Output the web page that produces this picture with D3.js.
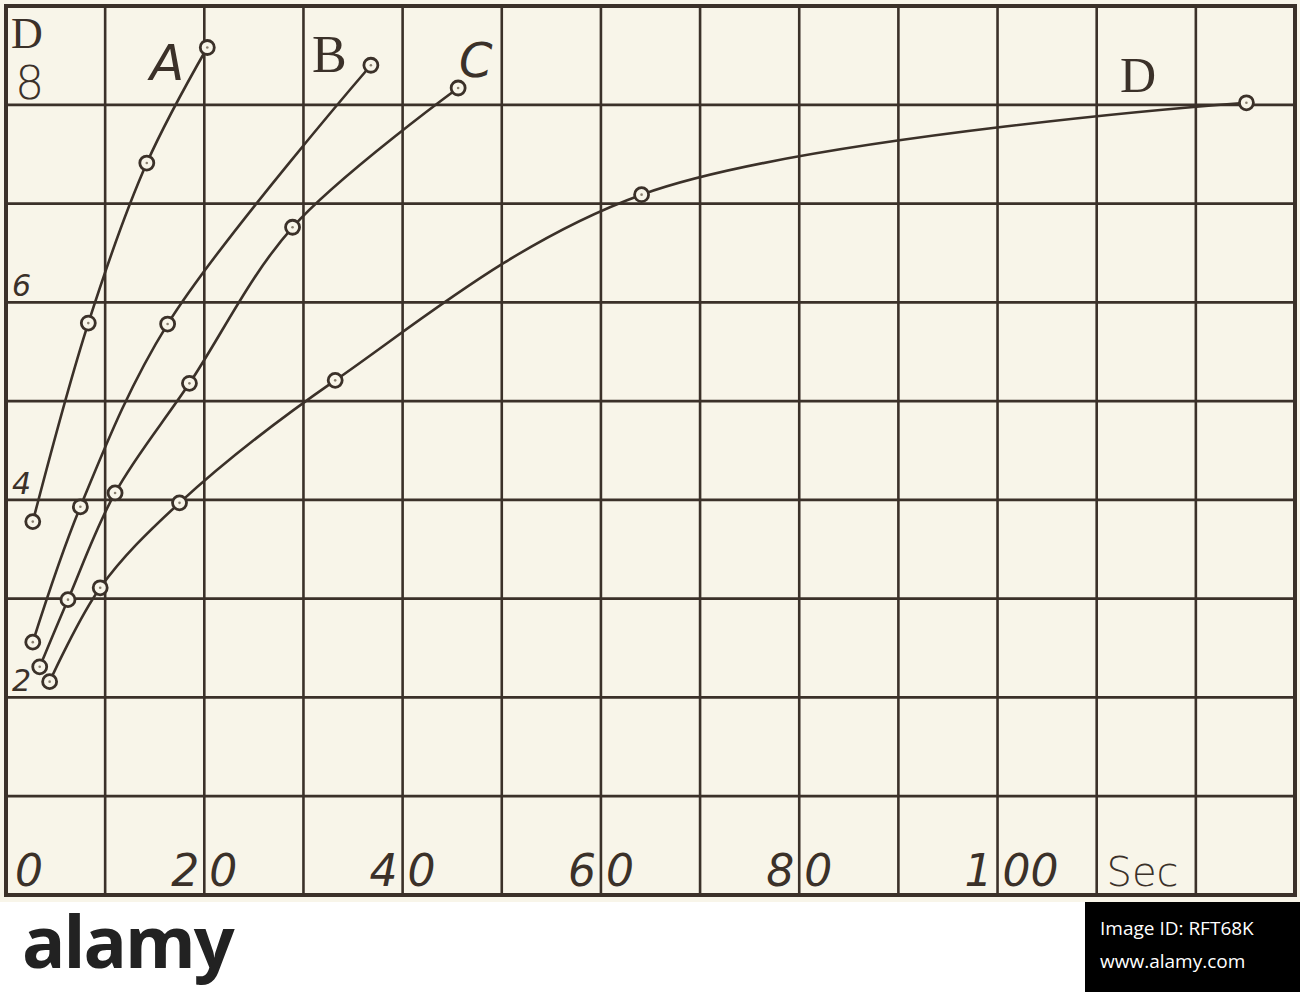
<!DOCTYPE html>
<html>
<head>
<meta charset="utf-8">
<script src="https://cdn.jsdelivr.net/npm/d3@7"></script>
<style>
  html, body { margin: 0; padding: 0; background: #ffffff; }
  svg { display: block; }
</style>
</head>
<body>
<svg id="chart" width="1300" height="992"></svg>
<script>
// ---- data ----
const seriesNames = ["A", "B", "C", "D"];
const seriesA = [[2.7, 3.78], [8.3, 5.79], [14.2, 7.41], [20.3, 8.58]];
const seriesB = [[2.7, 2.56], [7.5, 3.93], [16.3, 5.78], [36.8, 8.40]];
const seriesC = [[3.4, 2.31], [6.25, 2.99], [11.0, 4.07], [18.5, 5.18], [28.9, 6.76], [45.6, 8.17]];
const seriesD = [[4.4, 2.16], [9.5, 3.11], [17.5, 3.97], [33.2, 5.21], [64.1, 7.09], [125.1, 8.02]];
const xTickLabels = ["0", "20", "40", "60", "80", "100"];
const xTickValues = [0, 20, 40, 60, 80, 100];
const yTickLabels = ["2", "4", "6", "8"];
const yTickValues = [2, 4, 6, 8];
const xUnit = "Sec";
const yUnit = "D";

// ---- layout ----
const svg = d3.select("#chart");
const ink = "#3b3129";
const paper = "#f8f5e9";
const L = 6, R = 1295, T = 6, B = 895;

const x = d3.scaleLinear().domain([0, 130]).range([L, R]);
const y = d3.scaleLinear().domain([0, 9]).range([B, T]);

svg.append("rect").attr("x", 0).attr("y", 0).attr("width", 1300).attr("height", 902).attr("fill", paper);

// grid
const g = svg.append("g");
g.selectAll("line.v").data(d3.range(10, 130, 10)).join("line")
  .attr("x1", d => x(d)).attr("x2", d => x(d)).attr("y1", T).attr("y2", B)
  .attr("stroke", ink).attr("stroke-width", 2.6);
g.selectAll("line.h").data(d3.range(1, 9, 1)).join("line")
  .attr("y1", d => y(d)).attr("y2", d => y(d)).attr("x1", L).attr("x2", R)
  .attr("stroke", ink).attr("stroke-width", 2.8);
g.append("rect").attr("x", L).attr("y", T).attr("width", R - L).attr("height", B - T)
  .attr("fill", "none").attr("stroke", ink).attr("stroke-width", 4);

// curves
const line = d3.line().x(d => x(d[0])).y(d => y(d[1])).curve(d3.curveCatmullRom.alpha(0.5));
const allSeries = [seriesA, seriesB, seriesC, seriesD];
allSeries.forEach(s => {
  svg.append("path").attr("d", line(s)).attr("fill", "none")
    .attr("stroke", ink).attr("stroke-width", 2.6);
});
allSeries.forEach(s => {
  svg.append("g").selectAll("circle").data(s).join("circle")
    .attr("cx", d => x(d[0])).attr("cy", d => y(d[1])).attr("r", 7)
    .attr("fill", paper).attr("stroke", ink).attr("stroke-width", 2.8);
  svg.append("g").selectAll("circle").data(s).join("circle")
    .attr("cx", d => x(d[0])).attr("cy", d => y(d[1])).attr("r", 1.3)
    .attr("fill", "#8a8070");
});

// text
const font = "'DejaVu Sans', 'Liberation Sans', sans-serif";
const txt = (s, px, py, size, opts = {}) => svg.append("text")
  .attr("x", px).attr("y", py).text(s)
  .attr("font-family", opts.family || font)
  .attr("font-size", size)
  .attr("font-weight", opts.weight || 200)
  .attr("font-style", opts.style || "normal")
  .attr("text-anchor", opts.anchor || "start")
  .attr("fill", ink);

// x tick labels, split around the grid line
const xl = B - 9;
xTickValues.forEach((v, i) => {
  const lab = xTickLabels[i];
  if (v === 0) {
    txt(lab, x(v) + 9, xl, 44, { style: "italic" });
  } else {
    txt(lab.slice(0, 1), x(v) - 5, xl, 44, { anchor: "end", style: "italic" });
    txt(lab.slice(1), x(v) + 5, xl, 44, { style: "italic" });
  }
});
txt(xUnit, x(111), xl, 40);

// y tick labels
yTickValues.forEach((v, i) => {
  const size = v === 8 ? 46 : 30;
  txt(yTickLabels[i], L + (v === 8 ? 9 : 6), y(v) - 6, size, { style: v === 8 ? "normal" : "italic" });
});
txt(yUnit, L + 5, 48, 44, { family: "'Liberation Serif', serif", weight: 400 });

// series labels
txt(seriesNames[0], 150, 80, 50, { style: "italic" });
txt(seriesNames[1], 312, 72, 52, { family: "'Liberation Serif', serif", weight: 400 });
txt(seriesNames[2], 459, 77, 48, { style: "italic" });
txt(seriesNames[3], 1120, 92, 50, { family: "'Liberation Serif', serif", weight: 400 });

// watermark strip
svg.append("rect").attr("x", 0).attr("y", 902).attr("width", 1300).attr("height", 90).attr("fill", "#ffffff");
svg.append("text").attr("x", 22).attr("y", 968).text("alamy")
  .attr("font-family", "'Open Sans', 'DejaVu Sans', sans-serif").attr("font-size", 72)
  .attr("font-weight", 700).attr("fill", "#222222").attr("letter-spacing", -2);
svg.append("rect").attr("x", 1085).attr("y", 902).attr("width", 215).attr("height", 90).attr("fill", "#000000");
svg.append("text").attr("x", 1100).attr("y", 935).text("Image ID: RFT68K")
  .attr("font-family", "'Open Sans', sans-serif").attr("font-size", 19).attr("fill", "#ffffff");
svg.append("text").attr("x", 1100).attr("y", 968).text("www.alamy.com")
  .attr("font-family", "'Open Sans', sans-serif").attr("font-size", 19).attr("fill", "#ffffff");
</script>
</body>
</html>
